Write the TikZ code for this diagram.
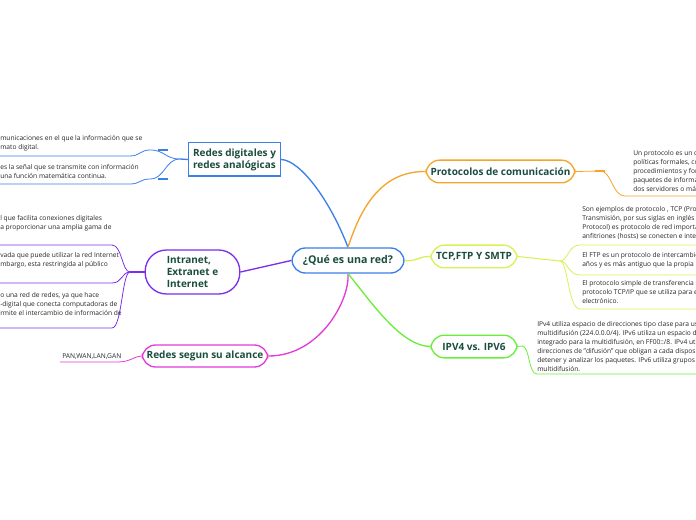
\documentclass[tikz,border=0pt]{standalone}
\usepackage{fontspec}
\setmainfont{Open Sans}
\begin{document}
\begin{tikzpicture}[x=0.75pt,y=-0.75pt,
 topic/.style={draw=#1,line width=1pt,rounded corners=10pt,font=\fontsize{7.5}{9}\selectfont\bfseries,text=tcol,align=left,fill=white},
 leaf/.style={font=\fontsize{5}{6.8}\selectfont,anchor=north west,align=left,inner sep=0pt,text=black!85},
 br/.style={draw=#1,line width=1pt}]
\definecolor{tcol}{HTML}{1B4D3E}
\definecolor{colB}{HTML}{3D7FE8}\definecolor{colP}{HTML}{7A2FEA}\definecolor{colM}{HTML}{E23ADB}
\definecolor{colO}{HTML}{F5A52A}\definecolor{colY}{HTML}{D6F25A}\definecolor{colG}{HTML}{6BEE3A}
\useasboundingbox (0,0) rectangle (696,520);
\clip (0,0) rectangle (696,520);
% central
\node[topic=colB,minimum width=84pt,minimum height=18.75pt,font=\fontsize{8}{9}\selectfont\bfseries] (c) at (348,260.5) {¿Qué es una red?};
\node[topic=colB,rounded corners=0pt,minimum width=62pt,minimum height=25pt] (rd) at (234.5,159.5) {Redes digitales y\\redes analógicas};
\node[topic=colP,rounded corners=16pt,minimum width=71pt,minimum height=33pt] (in) at (192.5,272) {Intranet,\\Extranet e\\Internet};
\node[topic=colM,minimum width=87pt,minimum height=16.5pt] (rs) at (205,356) {Redes segun su alcance};
\node[topic=colO,minimum width=104pt,minimum height=17pt] (pc) at (500.5,171.5) {Protocolos de comunicación};
\node[topic=colY,minimum width=64.5pt,minimum height=17pt] (tcp) at (474,256.5) {TCP,FTP Y SMTP};
\node[topic=colG,minimum width=64.5pt,minimum height=17pt] (ip) at (474,346.5) {IPV4 vs. IPV6};
% main branches
\draw[br=colB] (c.north) .. controls (330,200) and (300,160) .. (rd.east);
\draw[br=colP] (c.west) -- (in.east);
\draw[br=colM] (c.south) .. controls (350,300) and (320,356) .. (rs.east);
\draw[br=colO] (c.north) .. controls (360,210) and (380,171) .. (pc.west);
\draw[br=colY] (c.east) .. controls (415,262) and (420,256) .. (tcp.west);
\draw[br=colG] (c.south) .. controls (370,300) and (400,346) .. (ip.west);
% left leaves digital
\coordinate (rdj) at (180,159);
\draw[br=colB] (rd.west) -- (rdj);
\draw[draw=colB,line width=0.6pt] (rdj) .. controls (165,159) and (165,150) .. (150,150) .. controls (140,150) and (140,156) .. (130,156) -- (0,156);
\draw[draw=colB,line width=0.6pt] (rdj) .. controls (165,159) and (165,179) .. (150,179) .. controls (140,179) and (140,184) .. (130,184) -- (0,184);
\draw[colB,line width=1.2pt] (158,150)--(168,150) (158,179)--(168,179);
\node[leaf] (l1) at (0,135) {municaciones en el que la información que se\\mato digital.};
\node[leaf] (l2) at (0,164) {es la señal que se transmite con información\\una función matemática continua.};
% intranet leaves
\coordinate (inj) at (130,272);
\draw[colP,line width=0.8pt] (in.west) -- (inj);
\draw[colP,line width=0.6pt] (inj) .. controls (122,272) and (122,245) .. (112,245) -- (0,245);
\draw[colP,line width=0.6pt] (inj) .. controls (122,272) and (122,283) .. (112,283) -- (0,283);
\draw[colP,line width=0.6pt] (inj) .. controls (122,272) and (122,328) .. (112,328) -- (0,328);
\node[leaf] (l3) at (0,215) {l que facilita conexiones digitales\\a proporcionar una amplia gama de};
\node[leaf] (l4) at (0,252) {vada que puede utilizar la red Internet\\mbargo, esta restringida al público};
\node[leaf] (l5) at (0,292) {o una red de redes, ya que hace\\-digital que conecta computadoras de\\rmite el intercambio de información de};
% redes segun leaf
\draw[colM,line width=0.6pt] (rs.west) .. controls (135,356) and (130,362) .. (118,362) -- (60,362);
\node[leaf,anchor=south west] (l6) at (62,360) {PAN,WAN,LAN,GAN};
% protocol leaf
\draw[colO,line width=0.6pt] (pc.east) -- (600,171) .. controls (612,171) and (612,196) .. (625,196) -- (696,196);
\draw[colO,line width=1.2pt] (595,171)--(605,171);
\node[leaf] (l7) at (633,150) {Un protocolo es un conju\\políticas formales, con\\procedimientos y forma\\paquetes de informació\\dos servidores o más d};
% tcp leaves
\coordinate (tj) at (560,261);
\draw[colY,line width=0.8pt] (tcp.east) -- (tj);
\draw[colY,line width=0.6pt] (tj) .. controls (568,261) and (568,245) .. (580,245) -- (696,245);
\draw[colY,line width=0.6pt] (tj) .. controls (568,261) and (568,275) .. (580,275) -- (696,275);
\draw[colY,line width=0.6pt] (tj) .. controls (568,261) and (568,309) .. (580,309) -- (696,309);
\node[leaf] (l8) at (582,206) {Son ejemplos de protocolo , TCP (Protocolo\\Transmisión, por sus siglas en inglés Trans\\Protocol) es protocolo de red importante q\\anfitriones (hosts) se conecten e intercam};
\node[leaf] (l9) at (582,252) {El FTP es un protocolo de intercambio de a\\años  y es más antiguo que la propia Inter};
\node[leaf] (l10) at (582,280) {El protocolo simple de transferencia de co\\protocolo TCP/IP que se utiliza para enviar\\electrónico.};
% ipv leaf
\draw[colG,line width=0.6pt] (ip.east) -- (522,346) .. controls (530,346) and (528,374) .. (537,374) -- (696,374);
\node[leaf] (l11) at (537,321) {IPv4 utiliza espacio de direcciones tipo clase para uso\\multidifusión (224.0.0.0/4). IPv6 utiliza un espacio de direc\\integrado para la multidifusión, en FF00::/8. IPv4 utiliza\\direcciones de "difusión" que obligan a cada dispositivo a\\detener y analizar los paquetes. IPv6 utiliza grupos de\\multidifusión.};
\end{tikzpicture}
\end{document}
